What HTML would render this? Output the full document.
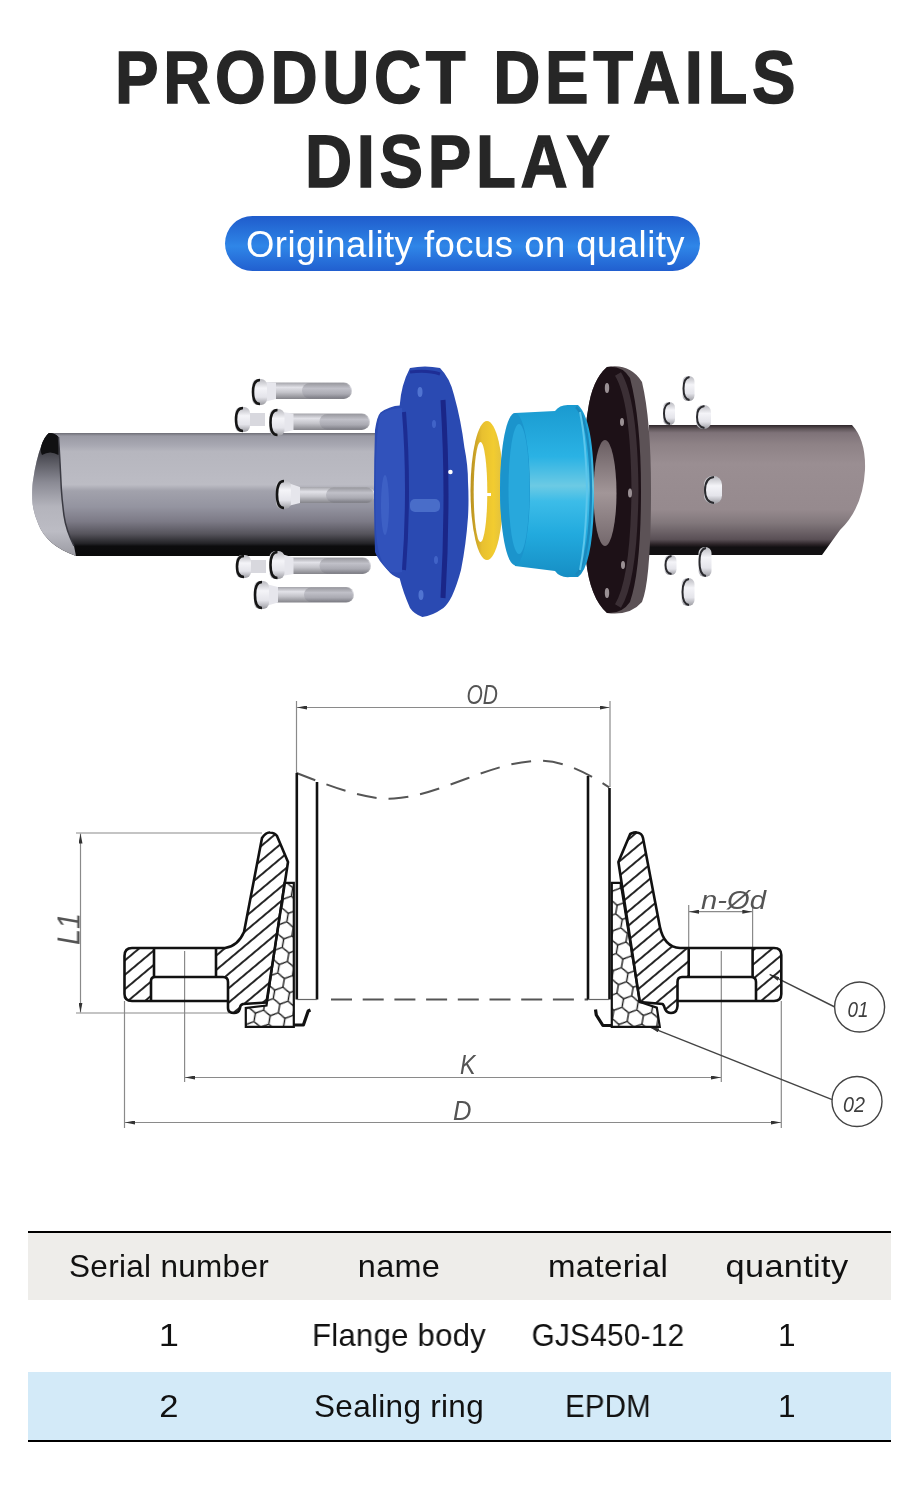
<!DOCTYPE html>
<html><head><meta charset="utf-8">
<style>
html,body{margin:0;padding:0;background:#fff;}
body{width:920px;height:1489px;position:relative;overflow:hidden;font-family:"Liberation Sans",sans-serif;}
.t{position:absolute;white-space:nowrap;line-height:1;}
.title{font-weight:bold;font-size:72.5px;color:#262626;-webkit-text-stroke:1.4px #262626;letter-spacing:5.2px;transform:scale(0.9,1.02);transform-origin:0 0;}
.pill{position:absolute;left:225px;top:216px;width:475px;height:55px;border-radius:27.5px;
 background:linear-gradient(180deg,#1f5ccc 0%,#2c7ee2 45%,#2f86e8 55%,#215fcf 100%);}
.pilltxt{will-change:transform;color:#fff;font-size:36.5px;left:227.5px;width:475px;text-align:center;letter-spacing:0.47px;}
.tbl{position:absolute;left:28px;width:863px;}
.cell{position:absolute;font-size:31.5px;letter-spacing:0.3px;color:#111;will-change:transform;text-align:center;width:260px;white-space:nowrap;line-height:1;}
</style></head>
<body>
<div class="t title" style="top:40.5px;left:115px;">PRODUCT DETAILS</div>
<div class="t title" style="top:124.5px;left:305px;">DISPLAY</div>
<div class="pill"></div>
<div class="t pilltxt" style="top:227px;">Originality focus on quality</div>

<svg id="art" width="920" height="1489" style="position:absolute;left:0;top:0">
<defs>
 <linearGradient id="gpipeL" x1="0" y1="0" x2="0" y2="1"><stop offset="0" stop-color="#6e6e76"/><stop offset="0.025" stop-color="#9a9aa4"/><stop offset="0.1" stop-color="#a8a8b2"/><stop offset="0.15" stop-color="#b6b6be"/><stop offset="0.42" stop-color="#bcbcc4"/><stop offset="0.47" stop-color="#a2a2ac"/><stop offset="0.6" stop-color="#9494a0"/><stop offset="0.72" stop-color="#7c7a86"/><stop offset="0.82" stop-color="#56545c"/><stop offset="0.9" stop-color="#222226"/><stop offset="0.92" stop-color="#0c0c0e"/><stop offset="1" stop-color="#0a0a0a"/></linearGradient>
 <linearGradient id="gend" x1="0" y1="0" x2="0" y2="1"><stop offset="0" stop-color="#18181a"/><stop offset="0.2" stop-color="#505058"/><stop offset="0.4" stop-color="#8a8a94"/><stop offset="0.6" stop-color="#b4b4bc"/><stop offset="0.8" stop-color="#bcbcc4"/><stop offset="1" stop-color="#9a9aa2"/></linearGradient>
 <linearGradient id="gbolt" x1="0" y1="0" x2="0" y2="1"><stop offset="0" stop-color="#a4a4aa"/><stop offset="0.3" stop-color="#e2e2e8"/><stop offset="0.6" stop-color="#c4c4ca"/><stop offset="1" stop-color="#84848a"/></linearGradient>
 <linearGradient id="ghead" x1="0" y1="0" x2="0" y2="1"><stop offset="0" stop-color="#b8b8be"/><stop offset="0.35" stop-color="#f4f4f8"/><stop offset="0.7" stop-color="#e4e4ea"/><stop offset="1" stop-color="#9a9aa0"/></linearGradient>
 <linearGradient id="gthread" x1="0" y1="0" x2="0" y2="1"><stop offset="0" stop-color="#98989e"/><stop offset="0.35" stop-color="#c0c0c8"/><stop offset="0.7" stop-color="#aaaab2"/><stop offset="1" stop-color="#7c7c84"/></linearGradient>
 <linearGradient id="gpipeR" x1="0" y1="0" x2="0" y2="1"><stop offset="0" stop-color="#2e262a"/><stop offset="0.03" stop-color="#5e5458"/><stop offset="0.06" stop-color="#7e7278"/><stop offset="0.15" stop-color="#8e8286"/><stop offset="0.3" stop-color="#9a8e92"/><stop offset="0.65" stop-color="#968a8e"/><stop offset="0.75" stop-color="#82787c"/><stop offset="0.88" stop-color="#5a5056"/><stop offset="0.92" stop-color="#2a2226"/><stop offset="0.94" stop-color="#121012"/><stop offset="1" stop-color="#121012"/></linearGradient>
 <linearGradient id="gcyan" x1="0" y1="0" x2="0" y2="1"><stop offset="0" stop-color="#1a9ad0"/><stop offset="0.3" stop-color="#2ab2e4"/><stop offset="0.47" stop-color="#6ccae4"/><stop offset="0.56" stop-color="#3cbce8"/><stop offset="0.75" stop-color="#22aade"/><stop offset="1" stop-color="#168ec4"/></linearGradient>
 <linearGradient id="gblue" x1="0" y1="0" x2="1" y2="0"><stop offset="0" stop-color="#2a50a8"/><stop offset="0.4" stop-color="#2c52aa"/><stop offset="0.7" stop-color="#2448a2"/><stop offset="1" stop-color="#1c3494"/></linearGradient>
 <linearGradient id="gopen" x1="0" y1="0" x2="0" y2="1">
  <stop offset="0" stop-color="#6a5e62"/><stop offset="0.5" stop-color="#a29698"/><stop offset="1" stop-color="#74686c"/>
 </linearGradient>
 <linearGradient id="gyel" x1="0" y1="0" x2="1" y2="0"><stop offset="0" stop-color="#b89020"/><stop offset="0.35" stop-color="#e8c030"/><stop offset="0.7" stop-color="#f2cc30"/><stop offset="1" stop-color="#e0c040"/></linearGradient>
</defs>
<!-- left pipe -->
<path d="M49,433 L380,433 L380,556 L76,556 Q60,550 52,543 Q42,534 38.6,524.7 Q32,510 32.3,497.5 Q32,485 33.2,479.4 Q36,460 41.3,445.8 Q44,437 49,433 Z" fill="url(#gpipeL)"/>
<path d="M49,433 Q44,437 41.3,445.8 Q36,460 33.2,479.4 Q32,485 32.3,497.5 Q32,510 38.6,524.7 Q42,534 52,543 Q60,550 76,556 L74,546 Q66,530 64,515.7 Q62,500 61.3,488.5 Q60,460 58.5,437 Q55,433 49,433 Z" fill="url(#gend)"/>
<path d="M49,433 Q44,437 41.3,446 Q40,452 42,455 Q50,450 58.5,455 Q59,445 58.5,437 Q55,433 49,433 Z" fill="#101012"/>
<path d="M58.5,437 Q60,460 61.3,488.5 Q62,500 64,515.7 Q66,530 74,546" fill="none" stroke="#3a3a42" stroke-width="1.5"/>
<!-- bolts left: back heads -->
<g>
<rect x="243" y="413.0" width="22" height="13" fill="#d8d8de"/>
<rect x="235" y="407" width="15" height="25" rx="6" fill="url(#ghead)"/>
<path d="M243,408 Q236,408 236,419.5 Q236,431 243,431" fill="none" stroke="#151515" stroke-width="2.6"/>
<rect x="244" y="560.0" width="22" height="13" fill="#d8d8de"/>
<rect x="236" y="555" width="15" height="23" rx="6" fill="url(#ghead)"/>
<path d="M244,556 Q237,556 237,566.5 Q237,577 244,577" fill="none" stroke="#151515" stroke-width="2.6"/>
<rect x="260" y="382.5" width="92" height="16.5" rx="8.25" fill="url(#gbolt)"/>
<rect x="302" y="383.0" width="49" height="15.5" rx="7.75" fill="url(#gthread)"/>
<path d="M264,382 L276,382.5 L276,399 L264,402 Z" fill="#e6e6ec"/>
<rect x="252" y="379" width="15" height="26" rx="6" fill="url(#ghead)"/>
<path d="M260,380 Q253,380 253,392.0 Q253,404 260,404" fill="none" stroke="#151515" stroke-width="2.6"/>
<rect x="277.5" y="413.5" width="92.5" height="16.5" rx="8.25" fill="url(#gbolt)"/>
<rect x="319.5" y="414.0" width="49.5" height="15.5" rx="7.75" fill="url(#gthread)"/>
<path d="M281.5,412 L293.5,413.5 L293.5,430 L281.5,433 Z" fill="#e6e6ec"/>
<rect x="269.5" y="409" width="15" height="27" rx="6" fill="url(#ghead)"/>
<path d="M277.5,410 Q270.5,410 270.5,422.5 Q270.5,435 277.5,435" fill="none" stroke="#151515" stroke-width="2.6"/>
<rect x="284" y="487" width="91" height="16" rx="8.0" fill="url(#gbolt)"/>
<rect x="326" y="487.5" width="48" height="15" rx="7.5" fill="url(#gthread)"/>
<path d="M288,483 L300,487 L300,503 L288,506 Z" fill="#e6e6ec"/>
<rect x="276" y="480" width="15" height="29" rx="6" fill="url(#ghead)"/>
<path d="M284,481 Q277,481 277,494.5 Q277,508 284,508" fill="none" stroke="#151515" stroke-width="2.6"/>
<rect x="277.5" y="557.5" width="93.5" height="16.5" rx="8.25" fill="url(#gbolt)"/>
<rect x="319.5" y="558.0" width="50.5" height="15.5" rx="7.75" fill="url(#gthread)"/>
<path d="M281.5,554 L293.5,557.5 L293.5,574 L281.5,576 Z" fill="#e6e6ec"/>
<rect x="269.5" y="551" width="15" height="28" rx="6" fill="url(#ghead)"/>
<path d="M277.5,552 Q270.5,552 270.5,565.0 Q270.5,578 277.5,578" fill="none" stroke="#151515" stroke-width="2.6"/>
<rect x="262" y="587" width="92" height="15.5" rx="7.75" fill="url(#gbolt)"/>
<rect x="304" y="587.5" width="49" height="14.5" rx="7.25" fill="url(#gthread)"/>
<path d="M266,584 L278,587 L278,602.5 L266,606 Z" fill="#e6e6ec"/>
<rect x="254" y="581" width="15" height="28" rx="6" fill="url(#ghead)"/>
<path d="M262,582 Q255,582 255,595.0 Q255,608 262,608" fill="none" stroke="#151515" stroke-width="2.6"/>
</g>
<!-- blue flange -->
<path d="M399.7,405.5 Q401,385 410,368 Q425,365 440,368 Q450,378 454,395 Q461,420 464.4,447.4 Q468,465 468,482 Q469,500 468,517 Q466,545 461,570 Q457,585 452,596 Q448,604 443.4,608 Q432,616 422.4,617 Q414,614 410,608 Q403,592 399.7,578.5 Q392,576 387.5,570 Q378,560 375,552 Q374,520 374,490 Q374,460 375,430 Q377,416 380.5,412.4 Q390,406 399.7,405.5 Z" fill="#2a4ab2"/>
<path d="M380.5,414 Q390,408 402,408 Q406,450 406,490 Q406,530 402,572 Q390,574 386,568 Q377,556 376,530 Q375,500 376,460 Q377,425 380.5,414 Z" fill="#3152bb"/>
<path d="M404,412 Q407,450 407,490 Q407,530 404,570" fill="none" stroke="#1c2c92" stroke-width="4"/>
<path d="M443,400 Q446,450 446,495 Q446,545 443,598" fill="none" stroke="#1a2688" stroke-width="5"/>
<path d="M410,372 Q428,370 440,374" fill="none" stroke="#1e2e96" stroke-width="3"/>
<rect x="410" y="499" width="30" height="13" rx="5" fill="#5a80d6" opacity="0.65"/>
<ellipse cx="385" cy="505" rx="4" ry="30" fill="#4a6ed0" opacity="0.5"/>
<ellipse cx="420" cy="392" rx="2.5" ry="5" fill="#5a7ed8" opacity="0.8"/>
<ellipse cx="421" cy="595" rx="2.5" ry="5" fill="#5a7ed8" opacity="0.8"/>
<ellipse cx="434" cy="424" rx="2" ry="4" fill="#4a6ed0" opacity="0.7"/>
<ellipse cx="436" cy="560" rx="2" ry="4" fill="#4a6ed0" opacity="0.7"/>
<circle cx="450.4" cy="472" r="2.3" fill="#fff"/>
<!-- yellow ring -->
<ellipse cx="487" cy="490.5" rx="16.5" ry="69.5" fill="url(#gyel)"/>
<ellipse cx="480.5" cy="492" rx="6.8" ry="50" fill="#fff"/>
<rect x="486" y="493" width="5" height="3" fill="#fff"/>
<!-- dark flange -->
<path d="M649,425 L852,425 Q866,440 865,470 Q863,508 840,530 L822,555 L649,555 Z" fill="url(#gpipeR)"/>
<path d="M607,367 Q630,363 642,382 Q651,420 651,490 Q651,580 642,602 Q630,616 607,613 Q590,598 586,560 Q584,520 584,490 Q584,430 588,410 Q592,380 607,367 Z" fill="#5c5256"/>
<path d="M607,367 Q622,365 630,378 Q641,420 641,490 Q641,570 630,602 Q622,614 607,613 Q590,598 586,560 Q584,520 584,490 Q584,430 588,410 Q592,380 607,367 Z" fill="#1d1117"/>
<path d="M618,374 Q634,400 635,490 Q634,580 618,606" fill="none" stroke="#3b2f35" stroke-width="7"/>
<ellipse cx="605" cy="493" rx="11.5" ry="53" fill="url(#gopen)"/>
<g fill="#9a9094"><ellipse cx="607" cy="388" rx="2.2" ry="5"/><ellipse cx="622" cy="422" rx="2" ry="4"/><ellipse cx="630" cy="493" rx="2" ry="4.5"/><ellipse cx="623" cy="565" rx="2" ry="4"/><ellipse cx="607" cy="593" rx="2.2" ry="5"/></g>
<!-- cyan seal -->
<path d="M515,413 L555,411 Q560,404 570,405 L578,405 Q594,420 594,491 Q594,565 578,577 L570,577 Q560,578 555,571 L515,566 Q500,540 500,489 Q500,440 515,413 Z" fill="url(#gcyan)"/>
<ellipse cx="515" cy="489" rx="15" ry="76" fill="#1b94cc"/>
<ellipse cx="519" cy="489" rx="10.5" ry="65" fill="#28a8dc"/>
<path d="M576,407 Q590,420 591,491 Q590,562 576,575" fill="none" stroke="#1a88bc" stroke-width="2.5"/>
<path d="M580,412 Q586,440 587,491 Q586,540 580,570" fill="none" stroke="#5cc6ec" stroke-width="2"/>
<!-- nuts -->
<rect x="682.5" y="376" width="12" height="25" rx="5.5" fill="url(#ghead)"/>
<path d="M689.5,377 Q683.5,378 683.5,388.5 Q683.5,399 689.5,400" fill="none" stroke="#2a2a2e" stroke-width="2"/>
<rect x="663" y="402" width="12" height="23" rx="5.5" fill="url(#ghead)"/>
<path d="M670.0,403 Q664,404 664,413.5 Q664,423 670.0,424" fill="none" stroke="#2a2a2e" stroke-width="2"/>
<rect x="696" y="405" width="15" height="24" rx="7.0" fill="url(#ghead)"/>
<path d="M704.5,406 Q697,407 697,417.0 Q697,427 704.5,428" fill="none" stroke="#2a2a2e" stroke-width="2"/>
<rect x="704" y="476" width="18" height="28" rx="8.5" fill="url(#ghead)"/>
<path d="M714.0,477 Q705,478 705,490.0 Q705,502 714.0,503" fill="none" stroke="#2a2a2e" stroke-width="2"/>
<rect x="664.5" y="555" width="12" height="20" rx="5.5" fill="url(#ghead)"/>
<path d="M671.5,556 Q665.5,557 665.5,565.0 Q665.5,573 671.5,574" fill="none" stroke="#2a2a2e" stroke-width="2"/>
<rect x="698.5" y="547" width="13" height="30" rx="6.0" fill="url(#ghead)"/>
<path d="M706.0,548 Q699.5,549 699.5,562.0 Q699.5,575 706.0,576" fill="none" stroke="#2a2a2e" stroke-width="2"/>
<rect x="681.5" y="578" width="13" height="28" rx="6.0" fill="url(#ghead)"/>
<path d="M689.0,579 Q682.5,580 682.5,592.0 Q682.5,604 689.0,605" fill="none" stroke="#2a2a2e" stroke-width="2"/>

<defs>
 <pattern id="hatch" width="11" height="11" patternUnits="userSpaceOnUse" patternTransform="rotate(50)">
  <line x1="2" y1="0" x2="2" y2="11" stroke="#1a1a1a" stroke-width="1.9"/>
 </pattern>
 <pattern id="hex" width="15" height="26" patternUnits="userSpaceOnUse" patternTransform="rotate(10)">
  <path d="M0,4.33 L7.5,0 L15,4.33 L15,13 L7.5,17.33 L0,13 Z M7.5,17.33 L7.5,26" fill="none" stroke="#1a1a1a" stroke-width="1.4"/>
 </pattern>
 <marker id="arr" viewBox="0 0 10 4" refX="10" refY="2" markerWidth="10" markerHeight="4" markerUnits="userSpaceOnUse" orient="auto-start-reverse">
  <path d="M0,0 L10,2 L0,4 Z" fill="#333"/>
 </marker>
</defs>
<g id="dims" stroke="#8a8a8a" stroke-width="1.2" fill="none">
 <!-- OD -->
 <line x1="296.5" y1="701" x2="296.5" y2="773"/>
 <line x1="610" y1="701" x2="610" y2="787"/>
 <line x1="297" y1="707.5" x2="609.5" y2="707.5" marker-start="url(#arr)" marker-end="url(#arr)"/>
 <!-- L1 -->
 <line x1="76" y1="833" x2="262" y2="833"/>
 <line x1="76" y1="1013" x2="229" y2="1013"/>
 <line x1="80.5" y1="833.5" x2="80.5" y2="1012.5" marker-start="url(#arr)" marker-end="url(#arr)"/>
 <!-- K -->
 <line x1="184.6" y1="951" x2="184.6" y2="1082"/>
 <line x1="721.3" y1="951" x2="721.3" y2="1082"/>
 <line x1="185" y1="1077.5" x2="721" y2="1077.5" marker-start="url(#arr)" marker-end="url(#arr)"/>
 <!-- D -->
 <line x1="124.5" y1="1001" x2="124.5" y2="1128"/>
 <line x1="781.3" y1="1001" x2="781.3" y2="1128"/>
 <line x1="125" y1="1122.5" x2="781" y2="1122.5" marker-start="url(#arr)" marker-end="url(#arr)"/>
 <!-- n-od -->
 <line x1="688.7" y1="905" x2="688.7" y2="948"/>
 <line x1="752.6" y1="905" x2="752.6" y2="948"/>
 <line x1="689" y1="911.7" x2="752.3" y2="911.7" marker-start="url(#arr)" marker-end="url(#arr)"/>
</g>
<g stroke="#444" stroke-width="1.4" fill="none">
 <line x1="769.6" y1="974.4" x2="834.8" y2="1007" marker-start="url(#arr)"/>
 <line x1="649.4" y1="1026.8" x2="832.2" y2="1099.6" marker-start="url(#arr)"/>
 <circle cx="859.6" cy="1007" r="25"/>
 <circle cx="857" cy="1101.5" r="25"/>
</g>
<g fill="#505050" font-family="Liberation Sans" font-style="italic" opacity="0.98">
 <text x="466.5" y="704" font-size="27.5" textLength="31.5" lengthAdjust="spacingAndGlyphs">OD</text>
 <text x="460" y="1074" font-size="27" textLength="15.5" lengthAdjust="spacingAndGlyphs">K</text>
 <text x="453" y="1120" font-size="27.5" textLength="18.5" lengthAdjust="spacingAndGlyphs">D</text>
 <text x="701" y="909" font-size="26" textLength="65" lengthAdjust="spacingAndGlyphs">n-Ød</text>
 <text transform="translate(79.5,945) rotate(-90)" font-size="31" textLength="32" lengthAdjust="spacingAndGlyphs">L1</text>
 <text x="847.5" y="1016.5" font-size="22" textLength="21" lengthAdjust="spacingAndGlyphs" fill="#3a3a3a">01</text>
 <text x="843" y="1111.5" font-size="22" textLength="22" lengthAdjust="spacingAndGlyphs" fill="#3a3a3a">02</text>
</g>
<!-- dashed -->
<g stroke="#555" stroke-width="2" fill="none">
 <path d="M296.5,773 C340,790 368,800 394,798.5 C440,796 490,762 537.5,760.8 C565,760 590,775 609.2,787.4" stroke-dasharray="20 12"/>
 <line x1="331" y1="999.5" x2="588" y2="999.5" stroke-dasharray="21 10.7"/>
</g>
<!-- pipe walls -->
<g stroke="#111" stroke-width="2.6" fill="none">
 <line x1="296.8" y1="773" x2="296.8" y2="999.5"/>
 <line x1="317" y1="782" x2="317" y2="999.5"/>
 <line x1="588" y1="776" x2="588" y2="999.5"/>
 <line x1="609.5" y1="788" x2="609.5" y2="999.5"/>
</g>
<g stroke="#666" stroke-width="1.2"><line x1="297" y1="999.5" x2="317" y2="999.5"/><line x1="588" y1="999.5" x2="609" y2="999.5"/></g>
<!-- left seal -->
<path d="M284.5,882.8 L293.8,882.8 L293.8,1026.8 L245.8,1026.8 L245.8,1008 L266.5,1005.5 Z" fill="url(#hex)" stroke="#111" stroke-width="2.2"/>
<!-- left flange hatch fill -->
<path d="M124.5,956 Q124.5,948 132,948 L154,948 L154,977 L151,977 L151,994 Q151,1001 144,1001 L132,1001 Q124.5,1001 124.5,994 Z" fill="url(#hatch)"/>
<path d="M216,948 L225,948 Q238,946 244,932 L262,838 Q266,832 270,832.5 Q275,833 277,836 L288,862 L266.5,1002.5 L243,1004 Q240,1005 240,1008 Q239,1013 234,1013 Q228,1013 228,1008 L228,982 Q228,977 223,977 L216,977 Z" fill="url(#hatch)"/>
<!-- left flange outline -->
<g stroke="#111" stroke-width="2.6" fill="none" stroke-linejoin="round">
 <path d="M262,838 Q266,832 270,832.5 Q275,833 277,836 L288,862 L266.5,1002.5 L243,1004 Q240,1005 240,1008 Q239,1013 234,1013 Q228,1013 228,1008 L228,1001 L132,1001 Q124.5,1001 124.5,994 L124.5,956 Q124.5,948 132,948 L225,948 Q238,946 244,932 Z"/>
 <line x1="154" y1="948" x2="154" y2="977"/>
 <line x1="216" y1="948" x2="216" y2="977"/>
 <path d="M151,1001 L151,981 Q151,977 155,977 L223,977 Q228,977 228,982 L228,1001"/>
 <path d="M293.8,1025 L303.4,1025 L308.2,1011 L310.5,1010" stroke-width="3.2"/>
</g>
<!-- right seal -->
<path d="M611.8,882.8 L620.6,882.8 L639.8,1002 L656.8,1007.6 L659.8,1026.8 L611.8,1026.8 Z" fill="url(#hex)" stroke="#111" stroke-width="2.2"/>
<!-- right flange hatch -->
<path d="M752.6,948 L774,948 Q781.3,948 781.3,955 L781.3,994 Q781.3,1001 774,1001 L763,1001 Q756,1001 756,994 L756,981 Q756,977 752.6,977 Z" fill="url(#hatch)"/>
<path d="M618.4,862 L630.2,834 Q634,832 637,832.5 Q642,833 643,838 L659.8,926.4 Q664,947 680,948 L688.7,948 L688.7,977 L682,977 Q677.5,977 677.5,982 L677.5,1006 Q677,1013 671,1013 Q665.7,1013 664,1006 L662.7,1004 L639.8,1002 Z" fill="url(#hatch)"/>
<g stroke="#111" stroke-width="2.6" fill="none" stroke-linejoin="round">
 <path d="M618.4,862 L630.2,834 Q634,832 637,832.5 Q642,833 643,838 L659.8,926.4 Q664,947 680,948 L774,948 Q781.3,948 781.3,955 L781.3,994 Q781.3,1001 774,1001 L677.5,1001 L677.5,1006 Q677,1013 671,1013 Q665.7,1013 664,1006 L662.7,1004 L639.8,1002 Z"/>
 <line x1="688.7" y1="948" x2="688.7" y2="977"/>
 <line x1="752.6" y1="948" x2="752.6" y2="977"/>
 <path d="M677.5,1001 L677.5,982 Q677.5,977 682,977 L751,977 Q756,977 756,982 L756,1001"/>
 <path d="M595.5,1009.5 L596.3,1015 L602.9,1025.5 L611.8,1025.5" stroke-width="3.2"/>
</g>

</svg>

<div class="tbl" style="top:1231px;height:2px;background:#000"></div>
<div class="tbl" style="top:1233px;height:67px;background:#eeedea"></div>
<div class="tbl" style="top:1372px;height:68px;background:#d3eaf8"></div>
<div class="tbl" style="top:1440px;height:2px;background:#000"></div>

<div class="cell" style="left:38.5px;top:1251px">Serial number</div>
<div class="cell" style="left:269px;top:1251px;transform:scaleX(1.03)">name</div>
<div class="cell" style="left:477.5px;top:1251px;transform:scaleX(1.05)">material</div>
<div class="cell" style="left:656.5px;top:1251px;transform:scaleX(1.09)">quantity</div>

<div class="cell" style="left:38.5px;top:1320px;transform:scaleX(1.15)">1</div>
<div class="cell" style="left:268.5px;top:1320px;transform:scaleX(0.985)">Flange body</div>
<div class="cell" style="left:477.5px;top:1320px;transform:scaleX(0.943)">GJS450-12</div>
<div class="cell" style="left:656.5px;top:1320px">1</div>

<div class="cell" style="left:39px;top:1391px;transform:scaleX(1.1)">2</div>
<div class="cell" style="left:269px;top:1391px">Sealing ring</div>
<div class="cell" style="left:477.5px;top:1391px;transform:scaleX(0.933)">EPDM</div>
<div class="cell" style="left:656.5px;top:1391px">1</div>
</body></html>
